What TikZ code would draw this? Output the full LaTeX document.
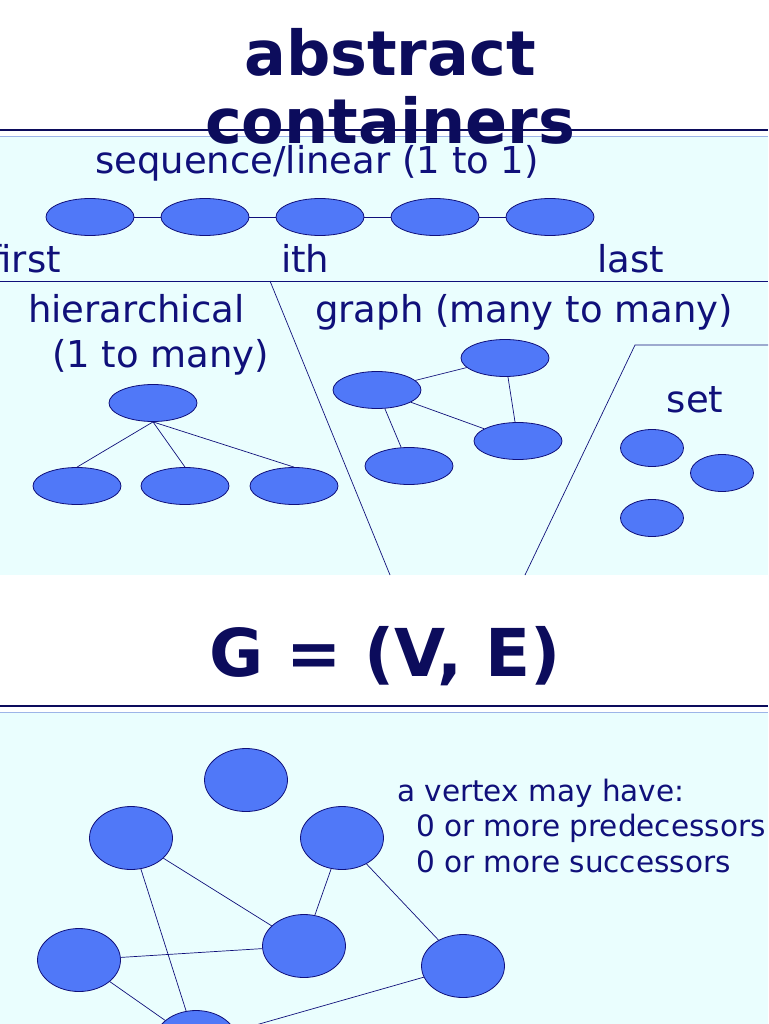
\documentclass[tikz,border=0pt]{standalone}
\usepackage{fontspec}
\setmainfont{DejaVu Sans}
\usetikzlibrary{shapes.geometric}
\definecolor{navy}{HTML}{10107A}
\definecolor{titlec}{HTML}{0C0C5C}
\definecolor{bgc}{HTML}{EAFEFE}
\definecolor{nodef}{HTML}{5078F8}
\definecolor{lineb}{HTML}{9DB5E8}
\begin{document}
\begin{tikzpicture}[x=1pt,y=-1pt,
  el/.style={draw=navy,fill=nodef,ellipse,line width=0.8pt},
  lnk/.style={draw=navy,line width=0.7pt},
  lbl/.style={text=navy,inner sep=0pt}]
\useasboundingbox (0,0) rectangle (768,1024);
\fill[white] (0,0) rectangle (768,1024);
\fill[bgc] (0,136) rectangle (768,575);
\fill[bgc] (0,712) rectangle (768,1024);
\draw[titlec,line width=2.2pt] (0,130) -- (768,130);
\draw[lineb,line width=1.5pt] (0,136.5) -- (768,136.5);
\draw[titlec,line width=2.2pt] (0,706) -- (768,706);
\draw[lineb,line width=1.5pt] (0,712.5) -- (768,712.5);
\node[text=titlec,font=\fontsize{62}{68}\selectfont\bfseries,align=center] (title) at (390,86) {abstract\\containers};
\node[text=titlec,font=\fontsize{66}{70}\selectfont\bfseries] (G) at (385,656) {G = (V, E)};
% dividers
\draw[lnk] (0,281) -- (768,281);
\draw[lnk] (270,281) -- (390,575);
\draw[lnk] (768,345) -- (635,345) -- (525,575);
% texts
\begin{scope}[font=\fontsize{37}{42}\selectfont]
\node[lbl] (seq) at (317,163) {sequence/linear (1 to 1)};
\node[lbl,anchor=base east] (first) at (61,272) {first};
\node[lbl,anchor=base west] (ith) at (281,272) {ith};
\node[lbl,anchor=base west] (last) at (597,272) {last};
\node[lbl,anchor=base west] (hier) at (28,322) {hierarchical};
\node[lbl,anchor=base west] (hier2) at (52,367) {(1 to many)};
\node[lbl,anchor=base west] (graph) at (315,322) {graph (many to many)};
\node[lbl,anchor=base] (set) at (695,412) {set};
\end{scope}
\begin{scope}[font=\fontsize{29.5}{34}\selectfont]
\node[lbl,anchor=base west] (t1) at (397,801) {a vertex may have:};
\node[lbl,anchor=base west] (t2) at (416,836) {0 or more predecessors};
\node[lbl,anchor=base west] (t3) at (416,872) {0 or more successors};
\end{scope}
% sequence
\foreach \i/\x in {1/90,2/205,3/320,4/435,5/550}
  \node[el,minimum width=88pt,minimum height=37pt,inner sep=0pt] (s\i) at (\x,217) {};
\foreach \a/\b in {1/2,2/3,3/4,4/5} \draw[lnk] (s\a) -- (s\b);
% hierarchy
\begin{scope}[every node/.style={el,minimum width=88pt,minimum height=37pt,inner sep=0pt}]
\node (h0) at (153,403) {};
\node (h1) at (77,486) {};
\node (h2) at (185,486) {};
\node (h3) at (294,486) {};
\node (g1) at (377,390) {};
\node (g2) at (505,358) {};
\node (g3) at (518,441) {};
\node (g4) at (409,466) {};
\end{scope}
\foreach \c in {h1,h2,h3} \draw[lnk] (h0.south) -- (\c.north);
\draw[lnk] (g1) -- (g2); \draw[lnk] (g1) -- (g3); \draw[lnk] (g2) -- (g3); \draw[lnk] (g1) -- (g4);
% set
\begin{scope}[every node/.style={el,minimum width=63pt,minimum height=37pt,inner sep=0pt}]
\node (z1) at (652,448) {};
\node (z2) at (722,473) {};
\node (z3) at (652,518) {};
\end{scope}
% bottom graph
\begin{scope}[every node/.style={el,minimum width=83pt,minimum height=63pt,inner sep=0pt}]
\node (b1) at (246,780) {};
\node (b2) at (131,838) {};
\node (b3) at (342,838) {};
\node (b4) at (79,960) {};
\node (b5) at (304,946) {};
\node (b6) at (463,966) {};
\node (b7) at (196,1042) {};
\end{scope}
\draw[lnk] (b2) -- (b5); \draw[lnk] (b3) -- (b5); \draw[lnk] (b3) -- (b6);
\draw[lnk] (b4) -- (b5); \draw[lnk] (b2) -- (b7); \draw[lnk] (b4) -- (b7); \draw[lnk] (b7) -- (b6);
\end{tikzpicture}
\end{document}
